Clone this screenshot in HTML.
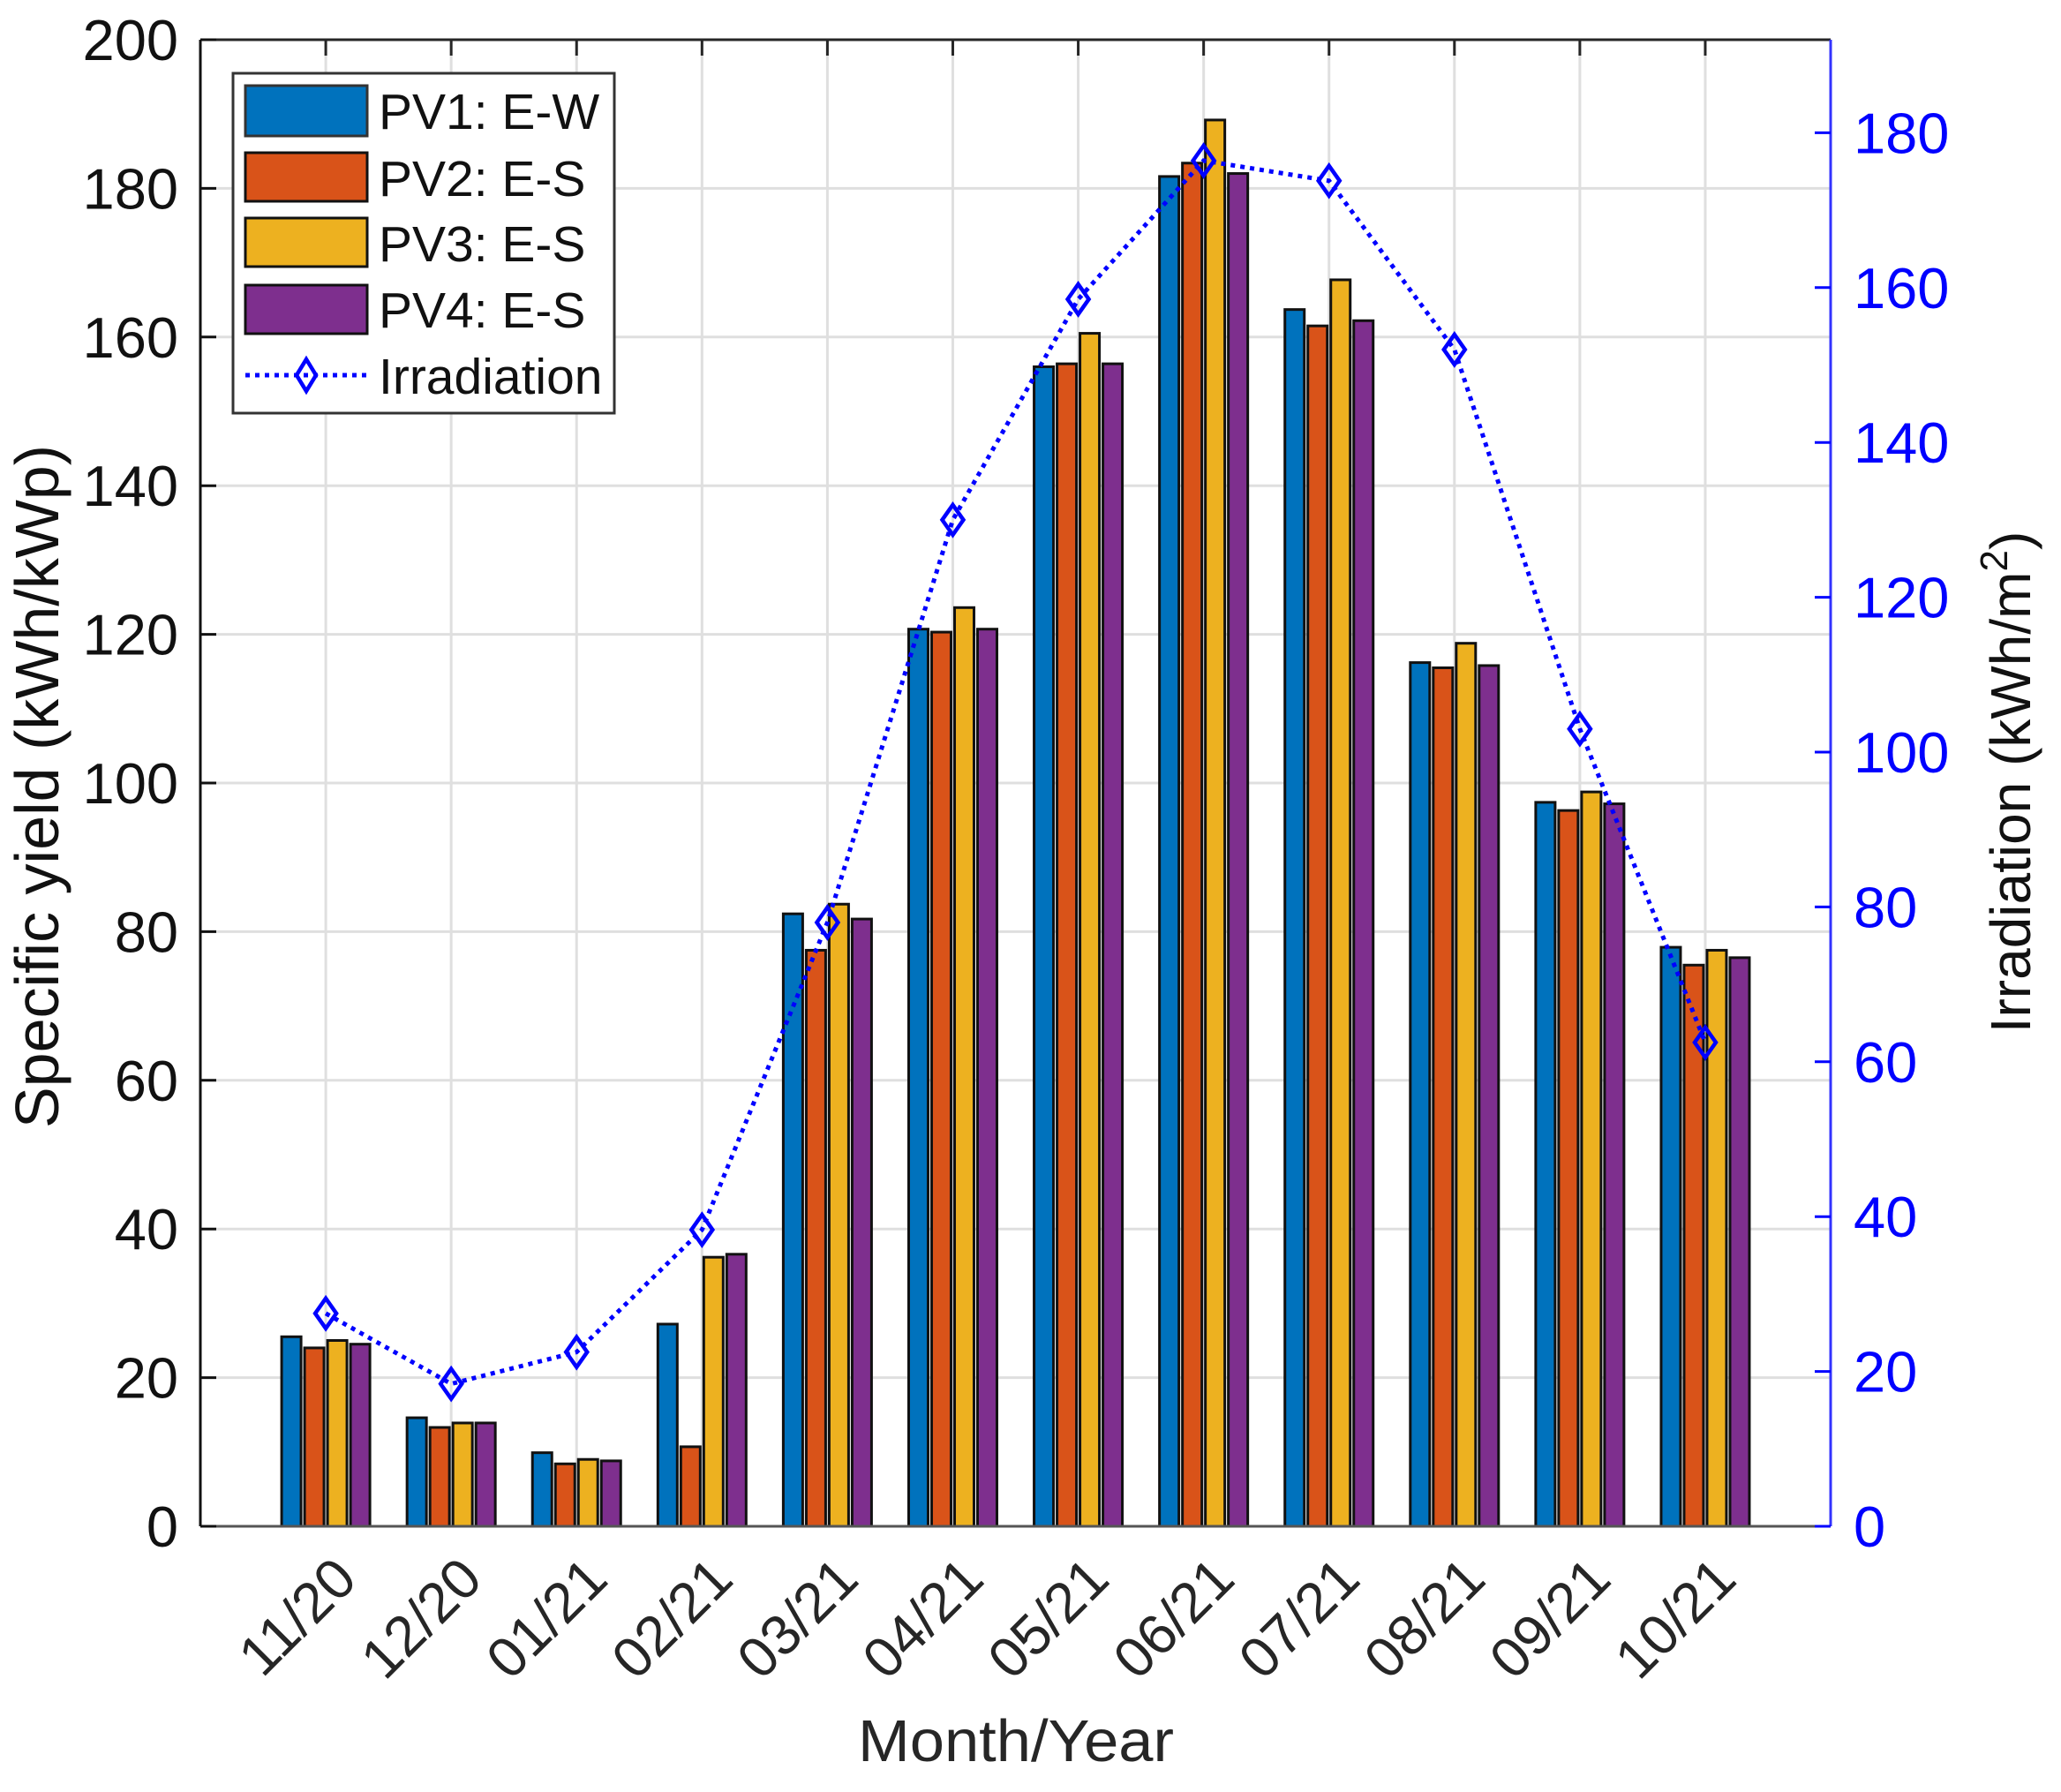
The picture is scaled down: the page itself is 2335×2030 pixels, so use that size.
<!DOCTYPE html>
<html><head><meta charset="utf-8"><style>
html,body{margin:0;padding:0;background:#fff;}
svg{display:block;}
text{font-family:"Liberation Sans",Arial,sans-serif;}
</style></head><body>
<svg width="2335" height="2030" viewBox="0 0 2335 2030" xmlns="http://www.w3.org/2000/svg">
<rect width="2335" height="2030" fill="#fff"/>
<g id="grid" stroke="#dfdfdf" stroke-width="3"></g>
<g id="bars"></g>
<g id="line"></g>
<g id="axes"></g>
<g id="labels"></g>
<script>
var L=227,R=2074,T=45,B=1729,U=142.08,LY=8.42,RY=8.77;
var ns="http://www.w3.org/2000/svg";
function el(p,n,a,t){var e=document.createElementNS(ns,n);for(var k in a)e.setAttribute(k,a[k]);if(t!=null)e.textContent=t;document.getElementById(p).appendChild(e);return e;}
var months=["11/20","12/20","01/21","02/21","03/21","04/21","05/21","06/21","07/21","08/21","09/21","10/21"];
var d=[[25.5,24,25,24.5],[14.6,13.3,13.9,13.9],[9.9,8.4,9.0,8.8],[27.2,10.7,36.2,36.6],[82.4,77.5,83.7,81.7],[120.7,120.3,123.6,120.7],[156,156.4,160.5,156.4],[181.6,183.4,189.2,182],[163.7,161.5,167.7,162.2],[116.2,115.5,118.8,115.8],[97.4,96.3,98.8,97.2],[77.9,75.5,77.5,76.5]];
var irr=[27.5,18.4,22.5,38.3,78,130,158.5,176.4,173.8,152,103,62.5];
var cols=["#0072BD","#D95319","#EDB120","#7E2F8E"];
var offs=[-39,-13,13,39];
for(var v=20;v<200;v+=20){var y=B-v*LY;el("grid","line",{x1:L,x2:R,y1:y,y2:y});}
for(var i=1;i<=12;i++){var x=L+i*U;el("grid","line",{x1:x,x2:x,y1:T,y2:B});}
for(var i=0;i<12;i++){var cx=L+(i+1)*U;for(var j=0;j<4;j++){var h=d[i][j]*LY;el("bars","rect",{x:cx+offs[j]-11,y:B-h,width:22,height:h,fill:cols[j],stroke:"#111",'stroke-width':3});}}
var pts=[];for(var i=0;i<12;i++){pts.push((L+(i+1)*U)+","+(B-irr[i]*RY));}
el("line","polyline",{points:pts.join(" "),fill:"none",stroke:"#0000ff","stroke-width":5,"stroke-dasharray":"5 6"});
for(var i=0;i<12;i++){var x=L+(i+1)*U,y=B-irr[i]*RY;el("line","polygon",{points:x+","+(y-17)+" "+(x+12)+","+y+" "+x+","+(y+17)+" "+(x-12)+","+y,fill:"none",stroke:"#0000ff","stroke-width":4.5});}
el("axes","line",{x1:L,x2:R,y1:T,y2:T,stroke:"#262626","stroke-width":3});
el("axes","line",{x1:L,x2:R,y1:B,y2:B,stroke:"#555","stroke-width":3});
el("axes","line",{x1:L,x2:L,y1:T,y2:B,stroke:"#111","stroke-width":3});
el("axes","line",{x1:R,x2:R,y1:T,y2:B,stroke:"#3333ff","stroke-width":3});
for(var v=0;v<=200;v+=20){var y=B-v*LY;el("axes","line",{x1:L,x2:L+18,y1:y,y2:y,stroke:"#111","stroke-width":3});el("labels","text",{x:202,y:y+23,"text-anchor":"end","font-size":65,fill:"#111"},String(v));}
for(var v=0;v<=180;v+=20){var y=B-v*RY;el("axes","line",{x1:R-18,x2:R,y1:y,y2:y,stroke:"#0000ff","stroke-width":3});el("labels","text",{x:2100,y:y+23,"font-size":65,fill:"#0000ff"},String(v));}
for(var i=1;i<=12;i++){var x=L+i*U;el("axes","line",{x1:x,x2:x,y1:T,y2:T+18,stroke:"#262626","stroke-width":3});
 el("labels","text",{x:x+38,y:1792,"text-anchor":"end","font-size":64,fill:"#262626",transform:"rotate(-45 "+(x+38)+" 1792)"},months[i-1]);}
</script>
<text x="972" y="1995" font-size="67" fill="#262626" textLength="358" lengthAdjust="spacingAndGlyphs">Month/Year</text>
<text transform="translate(66,891) rotate(-90)" text-anchor="middle" font-size="70" fill="#111">Specific yield (kWh/kWp)</text>
<text transform="translate(2300,886) rotate(-90)" text-anchor="middle" font-size="64" fill="#111">Irradiation (kWh/m<tspan font-size="44" dy="-26">2</tspan><tspan dy="26">)</tspan></text>
<rect x="264" y="83" width="432" height="385" fill="#fff" stroke="#333" stroke-width="3"/>
<rect x="278" y="97" width="138" height="57" fill="#0072BD" stroke="#333" stroke-width="3"/>
<rect x="278" y="173" width="138" height="55" fill="#D95319" stroke="#111" stroke-width="3"/>
<rect x="278" y="247" width="138" height="55" fill="#EDB120" stroke="#111" stroke-width="3"/>
<rect x="278" y="323" width="138" height="55" fill="#7E2F8E" stroke="#111" stroke-width="3"/>
<line x1="278" x2="416" y1="425" y2="425" stroke="#0000ff" stroke-width="5" stroke-dasharray="5 6"/>
<polygon points="347,407 358,425 347,443 336,425" fill="none" stroke="#0000ff" stroke-width="4.5"/>
<g font-size="57" fill="#111">
<text x="429" y="146">PV1: E-W</text>
<text x="429" y="222">PV2: E-S</text>
<text x="429" y="296">PV3: E-S</text>
<text x="429" y="371">PV4: E-S</text>
<text x="429" y="446">Irradiation</text>
</g>
</svg>
</body></html>
